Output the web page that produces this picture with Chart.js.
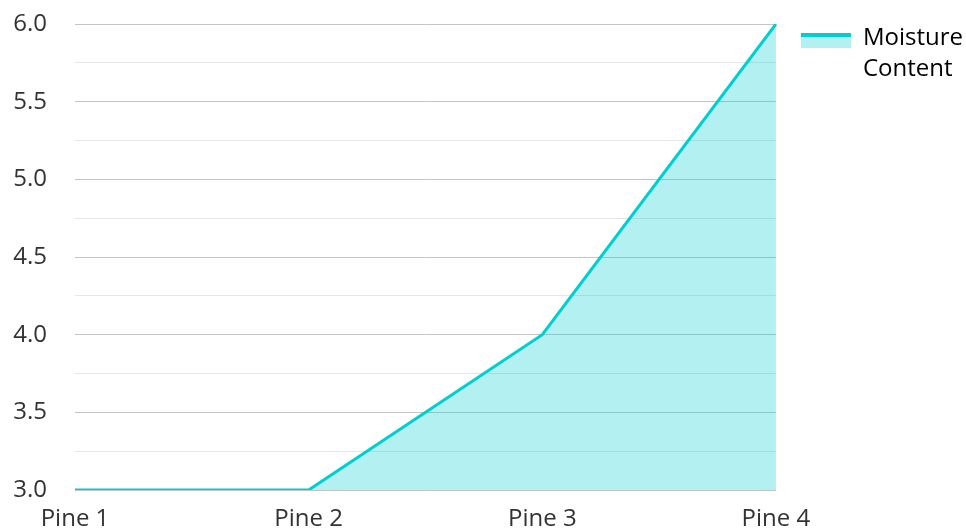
<!DOCTYPE html>
<html>
<head>
<meta charset="utf-8">
<script src="https://cdn.jsdelivr.net/npm/chart.js@4"></script>
<style>
  html, body { margin: 0; padding: 0; background: #fff; overflow: hidden; }
  #wrap { position: relative; width: 966px; height: 531px; }
</style>
</head>
<body>
<div id="wrap"><canvas id="chart"></canvas></div>
<script>
// Moisture content per pine sample
const categories = ['Pine 1', 'Pine 2', 'Pine 3', 'Pine 4'];
const moistureValues = [3.0, 3.0, 4.0, 6.0];
const seriesLabel = ['Moisture', 'Content'];

const LINE_COLOR = 'rgb(0, 206, 209)';
const FILL_COLOR = 'rgba(0, 206, 209, 0.3)';
const TEXT_COLOR = '#333333';
const FONT = { family: '"Open Sans", sans-serif', size: 24 };

const SWATCH_W = 50;
const SWATCH_H = 15;
const LEGEND_PAD = 20;

// Nudge the legend a little to the right of the plot area
const legendShift = {
  id: 'legendShift',
  afterLayout(chart) {
    const l = chart.legend;
    if (!l) return;
    l.left += 5;
    l.right += 5;
  }
};

// Legend swatch: filled box with a thick line along its top edge
const legendSwatch = {
  id: 'legendSwatch',
  afterDraw(chart) {
    const l = chart.legend;
    if (!l) return;
    const x = l.left + LEGEND_PAD;
    const top = l.top + LEGEND_PAD + 7;
    const ctx = chart.ctx;
    ctx.save();
    ctx.fillStyle = FILL_COLOR;
    ctx.fillRect(x, top, SWATCH_W, SWATCH_H);
    ctx.fillStyle = LINE_COLOR;
    ctx.fillRect(x, top, SWATCH_W, 4);
    ctx.restore();
  }
};

const isMajor = (v) => Math.abs(v * 2 - Math.round(v * 2)) < 1e-6;

new Chart(document.getElementById('chart'), {
  type: 'line',
  data: {
    labels: categories,
    datasets: [{
      label: seriesLabel.join(' '),
      data: moistureValues,
      borderColor: LINE_COLOR,
      backgroundColor: FILL_COLOR,
      borderWidth: 3,
      fill: 'origin',
      pointRadius: 0,
      tension: 0
    }]
  },
  options: {
    responsive: true,
    maintainAspectRatio: false,
    animation: false,
    layout: { padding: { top: 6, left: 13, right: -2, bottom: 0 } },
    plugins: {
      tooltip: { enabled: false },
      legend: {
        position: 'right',
        align: 'start',
        labels: {
          color: TEXT_COLOR,
          font: { ...FONT, lineHeight: 1.3 },
          boxWidth: SWATCH_W,
          boxHeight: SWATCH_H,
          padding: LEGEND_PAD,
          generateLabels() {
            return [{
              text: seriesLabel,
              fillStyle: 'rgba(0,0,0,0)',
              strokeStyle: 'rgba(0,0,0,0)',
              lineWidth: 0,
              datasetIndex: 0,
              hidden: false
            }];
          }
        }
      }
    },
    scales: {
      x: {
        grid: { display: false },
        border: { display: false },
        offset: false,
        ticks: { color: TEXT_COLOR, font: FONT, padding: 7, maxRotation: 0, autoSkip: false },
        afterFit(scale) {
          scale.height = 41;
          scale.paddingLeft = 0;
          scale.paddingRight = 190;
        }
      },
      y: {
        min: 3,
        max: 6,
        border: { display: false },
        grid: {
          drawTicks: false,
          lineWidth: 1,
          color: (ctx) => (ctx.tick && isMajor(ctx.tick.value)) ? '#c4c4c4' : '#e6e6e6'
        },
        ticks: {
          stepSize: 0.25,
          padding: 28,
          color: TEXT_COLOR,
          font: FONT,
          callback: (v) => isMajor(v) ? Number(v).toFixed(1) : ''
        },
        afterFit(scale) {
          scale.width = 62;
          scale.paddingTop = 24;
          scale.paddingBottom = 0;
        }
      }
    }
  },
  plugins: [legendShift, legendSwatch]
});
</script>
</body>
</html>
